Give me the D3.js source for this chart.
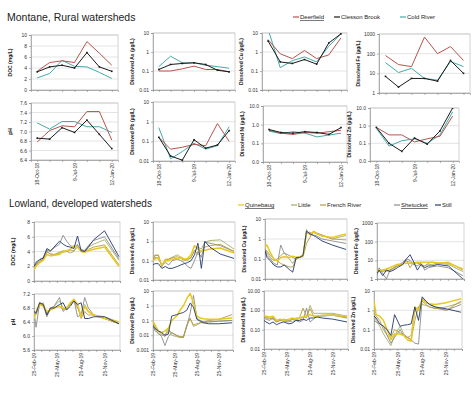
<!DOCTYPE html>
<html>
<head>
<meta charset="utf-8">
<script src="https://cdn.jsdelivr.net/npm/d3@7"></script>
<style>
body { margin: 0; background: #fff; }
svg { font-family: "Liberation Sans", Arial, sans-serif; }
</style>
</head>
<body>
<div id="chart"></div>
<script>
// Montane, rural sites (7 sampling events)
var upNames = ["Deerfield", "Clesson Brook", "Cold River"];
var upColors = ["#b5544f", "#1a1a1a", "#45aaa8"];
var upDates = ["18-Oct-18", "", "", "9-Jul-19", "", "", "12-Jan-20"];

var upDOC = [[3.4, 5.0, 5.3, 5.0, 8.8, 6.7, 4.5], [3.3, 4.2, 4.5, 4.0, 6.8, 4.2, 3.4], [2.2, 3.0, 5.4, 4.3, 4.2, 3.2, 2.1]];
var upAs = [[0.10, 0.10, 0.13, 0.18, 0.12, 0.12, 0.09], [0.12, 0.22, 0.25, 0.27, 0.22, 0.11, 0.09], [0.17, 0.6, 0.27, 0.27, 0.2, 0.17, 0.14]];
var upCu = [[4.5, 0.8, 0.45, 1.2, 0.45, 0.7, 5.5], [3.8, 0.3, 0.25, 0.4, 0.23, 3.0, 9.0], [16, 0.15, 0.35, 0.55, 0.3, 2.0, 9.0]];
var upFe = [[80, 28, 22, 700, 100, 230, 45], [7, 2, 5.5, 5.5, 4, 45, 10], [35, 11, 18, 5.5, 4.5, 40, 22]];
var upPH = [[6.78, 7.02, 7.12, 7.10, 7.42, 7.42, 6.82], [6.86, 6.84, 7.08, 6.98, 7.24, 6.94, 6.64], [7.18, 7.05, 7.21, 7.21, 7.10, 7.10, 6.98]];
var upPb = [[0.16, 0.04, 0.05, 0.07, 0.06, 0.8, 0.1], [0.16, 0.018, 0.011, 0.12, 0.045, 0.065, 0.35], [0.5, 0.013, 0.03, 0.08, 0.04, 0.06, 0.55]];
var upNi = [[0.5, 0.35, 0.3, 0.38, 0.35, 0.42, 0.5], [0.55, 0.38, 0.35, 0.42, 0.38, 0.3, 0.7], [0.45, 0.33, 0.42, 0.35, 0.22, 0.28, 0.35]];
var upZn = [[0.8, 0.3, 0.3, 0.12, 0.18, 0.25, 3.5], [0.8, 0.1, 0.035, 0.2, 0.09, 0.5, 10], [0.7, 0.07, 0.14, 0.18, 0.1, 0.3, 6]];

// Lowland, developed sites
var lowNames = ["Quinebaug", "Little", "French River", "Shetucket", "Still"];
var lowColors = ["#e9c81e", "#a4ad6c", "#b89b3c", "#8a8a8a", "#23396e"];
var lowDates = ["2019-02-25", "2019-03-05", "2019-03-19", "2019-04-02", "2019-04-16", "2019-04-30", "2019-05-14",
  "2019-06-04", "2019-06-18", "2019-07-02", "2019-07-16", "2019-07-30", "2019-08-13", "2019-08-27",
  "2019-09-10", "2019-09-24", "2019-10-15", "2019-11-26", "2020-01-21"];

var lowDOC = [
  [1.5, 2.0, 2.5, 2.8, 3.6, 3.4, 3.5, 3.6, 4.0, 4.1, 4.3, 4.8, 4.6, 4.0, 3.9, 4.1, 4.3, 4.6, 2.0],
  [1.9, 2.3, 2.7, 3.0, 4.1, 3.6, 3.5, 3.8, 3.9, 4.0, 3.8, 4.0, 5.0, 4.0, 4.2, 4.6, 5.0, 5.6, 2.8],
  [1.8, 2.2, 2.6, 2.9, 3.9, 3.7, 3.6, 3.9, 4.1, 4.0, 4.2, 4.1, 4.6, 4.2, 4.0, 4.3, 4.6, 4.9, 2.2],
  [2.1, 2.6, 2.9, 3.2, 4.2, 4.0, 4.5, 5.0, 6.2, 5.4, 4.8, 4.6, 4.8, 4.3, 4.1, 4.8, 5.5, 6.0, 3.0],
  [2.0, 2.4, 2.9, 3.1, 4.4, 4.1, 4.6, 5.4, 5.0, 4.7, 4.6, 4.4, 6.1, 4.1, 4.0, 4.6, 5.6, 6.8, 3.3]];
var lowAs = [
  [0.1, 0.12, 0.15, 0.06, 0.1, 0.1, 0.12, 0.13, 0.15, 0.12, 0.13, 0.2, 0.6, 0.4, 0.3, 0.35, 0.4, 0.45, 0.25],
  [0.15, 0.2, 0.18, 0.05, 0.1, 0.12, 0.15, 0.2, 0.15, 0.12, 0.1, 0.15, 0.3, 0.5, 0.4, 0.9, 1.1, 1.2, 0.4],
  [0.12, 0.18, 0.2, 0.05, 0.12, 0.12, 0.14, 0.16, 0.13, 0.1, 0.12, 0.14, 0.35, 0.2, 0.3, 0.5, 0.6, 0.7, 0.3],
  [0.1, 0.15, 0.12, 0.06, 0.08, 0.06, 0.1, 0.12, 0.1, 0.08, 0.05, 0.04, 0.1, 0.3, 0.15, 0.9, 0.8, 0.6, 0.3],
  [0.06, 0.07, 0.07, 0.04, 0.05, 0.04, 0.04, 0.05, 0.06, 0.07, 0.08, 0.1, 0.2, 0.8, 0.04, 1.0, 0.5, 0.22, 0.13]];
var lowCu = [
  [0.4, 0.5, 0.2, 0.1, 0.08, 0.12, 0.13, 0.12, 0.14, 0.12, 0.13, 0.15, 2.0, 1.8, 2.2, 1.8, 1.4, 1.2, 1.8],
  [0.35, 0.2, 0.12, 0.08, 0.1, 0.15, 0.2, 0.1, 0.06, 0.12, 0.12, 0.15, 3.0, 1.5, 2.2, 1.8, 1.5, 1.0, 1.5],
  [0.3, 0.25, 0.15, 0.1, 0.08, 0.06, 0.05, 0.04, 0.04, 0.1, 0.12, 0.13, 0.6, 1.2, 2.5, 2.0, 1.6, 1.0, 0.9],
  [0.3, 0.15, 0.1, 0.06, 0.05, 0.5, 0.2, 0.15, 0.12, 0.1, 0.12, 0.15, 2.0, 2.2, 1.6, 1.4, 1.0, 0.8, 0.6],
  [0.25, 0.12, 0.08, 0.05, 0.04, 0.04, 0.05, 0.03, 0.022, 0.12, 0.12, 0.15, 2.5, 1.8, 1.5, 1.2, 0.8, 0.5, 0.3]];
var lowFe = [
  [2.5, 3, 3, 3.5, 4, 5, 6, 6.5, 7, 7, 7.5, 8, 8, 8, 8, 8, 7.5, 7, 3.5],
  [3, 2.5, 3, 2.5, 3, 3.5, 5, 7, 9, 8, 6, 8, 5, 5, 6, 6, 7, 6, 2.5],
  [2, 3, 2.5, 3, 3, 4, 5, 6, 10, 4, 8, 7, 6, 5, 7, 8, 7, 8, 3],
  [1.5, 4, 2, 1, 3, 4, 5, 8, 12, 10, 6, 5, 7, 3, 4, 4.5, 5, 4, 1.5],
  [2, 3, 1.5, 3, 2.5, 3, 4, 6, 12, 20, 8, 3, 6, 4, 5, 5, 6, 5, 1]];
var lowPH = [
  [6.5, 6.7, 6.9, 6.85, 6.7, 6.75, 6.8, 6.85, 6.8, 6.8, 6.95, 7.05, 6.9, 6.55, 6.85, 6.7, 6.6, 6.5, 6.4],
  [6.6, 6.6, 6.9, 6.95, 6.6, 6.75, 6.85, 7.0, 6.8, 6.75, 6.95, 7.0, 6.8, 6.6, 6.9, 6.7, 6.6, 6.55, 6.4],
  [6.55, 6.7, 6.95, 6.85, 6.65, 6.8, 6.8, 6.85, 6.75, 6.8, 6.9, 7.0, 6.85, 6.5, 6.7, 6.6, 6.6, 6.5, 6.35],
  [6.7, 6.25, 6.95, 6.9, 6.55, 6.8, 6.85, 7.1, 6.7, 6.8, 6.9, 7.05, 6.55, 6.6, 7.1, 6.8, 6.6, 6.5, 6.35],
  [6.7, 6.65, 6.95, 6.9, 6.6, 6.8, 6.8, 6.9, 6.95, 6.75, 6.85, 7.0, 6.9, 6.95, 6.5, 6.5, 6.55, 6.55, 6.35]];
var lowPb = [
  [0.09, 0.05, 0.02, 0.015, 0.02, 0.03, 0.1, 0.2, 0.5, 1.0, 3.0, 7.0, 1.5, 0.2, 0.15, 0.13, 0.12, 0.12, 0.15],
  [0.06, 0.03, 0.012, 0.01, 0.01, 0.03, 0.01, 0.008, 0.007, 0.007, 0.04, 0.15, 0.04, 0.05, 0.07, 0.07, 0.08, 0.09, 0.1],
  [0.07, 0.04, 0.02, 0.012, 0.008, 0.02, 0.015, 0.009, 0.008, 0.007, 0.05, 0.13, 0.05, 0.06, 0.07, 0.08, 0.1, 0.12, 0.25],
  [0.05, 0.02, 0.015, 0.008, 0.002, 0.008, 0.015, 0.01, 0.008, 0.008, 0.04, 0.3, 5.0, 0.15, 0.1, 0.08, 0.08, 0.09, 0.1],
  [0.04, 0.03, 0.02, 0.015, 0.01, 0.012, 0.2, 0.25, 0.3, 0.35, 0.5, 1.5, 0.8, 0.12, 0.09, 0.07, 0.06, 0.06, 0.07]];
var lowNi = [
  [0.55, 0.5, 0.45, 0.5, 0.3, 0.35, 0.3, 0.35, 0.4, 0.35, 0.4, 0.45, 0.5, 0.6, 0.5, 0.5, 0.55, 0.55, 0.5],
  [0.5, 0.45, 0.35, 0.45, 0.3, 0.35, 0.3, 0.3, 0.25, 0.35, 0.3, 0.5, 0.4, 1.8, 0.7, 0.7, 0.7, 0.7, 0.5],
  [0.45, 0.4, 0.4, 0.35, 0.25, 0.3, 0.35, 0.3, 0.35, 0.4, 0.4, 1.3, 0.5, 1.2, 0.5, 0.5, 0.55, 0.6, 0.45],
  [0.4, 0.35, 0.3, 0.4, 0.25, 0.3, 0.28, 0.25, 0.35, 0.3, 0.25, 0.3, 1.3, 0.25, 0.35, 0.5, 0.5, 0.55, 0.4],
  [0.3, 0.25, 0.2, 0.25, 0.18, 0.22, 0.25, 0.2, 0.22, 0.3, 0.3, 0.35, 0.3, 0.4, 0.4, 0.45, 0.4, 0.35, 0.25]];
var lowZn = [
  [3.0, 0.6, 0.5, 0.3, 0.1, 0.03, 0.06, 0.06, 0.05, 0.03, 0.025, 1.5, 1.0, 4.0, 2.5, 2.2, 2.0, 2.5, 4.0],
  [0.6, 0.3, 0.15, 0.06, 0.03, 0.015, 0.05, 0.15, 0.06, 0.04, 0.05, 1.0, 1.5, 2.0, 1.8, 1.5, 1.2, 1.5, 2.5],
  [0.8, 0.5, 0.3, 0.1, 0.05, 0.04, 0.1, 0.07, 0.05, 0.04, 0.03, 0.3, 1.5, 3.0, 2.0, 1.5, 1.3, 1.0, 3.0],
  [0.3, 0.25, 0.2, 0.15, 0.05, 0.02, 0.04, 0.1, 0.05, 0.04, 0.03, 0.02, 0.018, 4.0, 2.5, 2.0, 1.5, 1.0, 2.0],
  [0.5, 0.4, 0.2, 0.15, 0.1, 0.05, 0.6, 0.15, 0.17, 0.18, 0.2, 1.5, 0.3, 5.0, 3.0, 2.0, 1.5, 1.2, 0.8]];

var width = 474, height = 394;
var svg = d3.select("#chart").append("svg")
  .attr("width", width)
  .attr("height", height);

var parseDate = d3.timeParse("%Y-%m-%d");
var lowX = lowDates.map(parseDate);
var lowStart = parseDate("2019-02-25"), lowEnd = parseDate("2020-01-25");
var monthTicks = d3.range(0, 12).map(function(i) { return new Date(2019, 1 + i, 25); })
  .filter(function(d) { return d <= lowEnd; });
var fmtDate = d3.timeFormat("%-d-%b-%y");
var clipId = 0;

function drawPanel(o) {
  var g = svg.append("g");
  var x, xVals;
  if (o.mode === "up") {
    x = d3.scalePoint().domain(d3.range(7)).range([o.l, o.r]).padding(0.5);
    xVals = d3.range(7);
  } else {
    x = d3.scaleTime().domain([lowStart, lowEnd]).range([o.l, o.r]);
    xVals = lowX;
  }
  var y = (o.log ? d3.scaleLog() : d3.scaleLinear()).domain(o.domain).range([o.b, o.t]);

  // gridlines
  g.selectAll(".grid").data(o.ticks).enter().append("line")
    .attr("x1", o.l).attr("x2", o.r)
    .attr("y1", function(d) { return y(d); })
    .attr("y2", function(d) { return y(d); })
    .attr("stroke", "#d9d9d9")
    .attr("stroke-width", 0.7);

  g.append("rect")
    .attr("x", o.l).attr("y", o.t)
    .attr("width", o.r - o.l).attr("height", o.b - o.t)
    .attr("fill", "none")
    .attr("stroke", "#bfbfbf")
    .attr("stroke-width", 0.7);

  var yAxis = g.append("g")
    .attr("transform", "translate(" + o.l + ",0)")
    .call(d3.axisLeft(y).tickValues(o.ticks).tickFormat(o.fmt).tickSize(2).tickPadding(2));
  yAxis.selectAll("text").style("font-size", "5px").attr("fill", "#333");
  yAxis.selectAll("line, path").attr("stroke", "#888").attr("stroke-width", 0.6);

  var xAxis;
  if (o.mode === "up") {
    xAxis = d3.axisBottom(x).tickValues(d3.range(7)).tickSize(2)
      .tickFormat(function(d) { return o.labels ? upDates[d] : ""; });
  } else {
    xAxis = d3.axisBottom(x).tickValues(monthTicks).tickSize(2)
      .tickFormat(function(d, i) { return (o.labels && i % 3 === 0) ? fmtDate(d) : ""; });
  }
  var xg = g.append("g")
    .attr("transform", "translate(0," + o.b + ")")
    .call(xAxis);
  xg.selectAll("line, path").attr("stroke", "#888").attr("stroke-width", 0.6);
  xg.selectAll("text")
    .style("font-size", "5px")
    .attr("fill", "#333")
    .attr("transform", "rotate(-90)")
    .attr("text-anchor", "end")
    .attr("x", -3).attr("y", 0).attr("dy", "0.35em");

  g.append("text")
    .attr("transform", "translate(" + (o.l - 19) + "," + ((o.t + o.b) / 2) + ") rotate(-90)")
    .attr("text-anchor", "middle")
    .style("font-size", "5px")
    .attr("font-weight", "bold")
    .attr("fill", "#222")
    .text(o.label);

  clipId++;
  svg.append("clipPath").attr("id", "clip" + clipId)
    .append("rect").attr("x", o.l).attr("y", o.t)
    .attr("width", o.r - o.l).attr("height", o.b - o.t);

  var line = d3.line()
    .x(function(d, i) { return x(xVals[i]); })
    .y(function(d) { return y(d); });

  var lines = g.append("g").attr("clip-path", "url(#clip" + clipId + ")");
  o.order.forEach(function(k) {
    lines.append("path")
      .datum(o.data[k])
      .attr("d", line)
      .attr("fill", "none")
      .attr("stroke", o.colors[k])
      .attr("stroke-width", o.widths[k])
      .attr("stroke-linejoin", "round");
  });
  if (o.mode === "up") {
    // Clesson Brook has small markers
    lines.selectAll(".mk").data(o.data[1]).enter().append("rect")
      .attr("x", function(d, i) { return x(i) - 0.8; })
      .attr("y", function(d) { return y(d) - 0.8; })
      .attr("width", 1.6).attr("height", 1.6)
      .attr("fill", o.colors[1]);
  }
}

var f0 = d3.format(".0f"), f1 = d3.format(".1f"), f2 = d3.format(".2f");
var fLog = function(d) { return String(d); };
var decades3 = [0.01, 0.1, 1, 10];
var upW = [1, 1, 1];
var upOrder = [2, 0, 1];
var lowW = [1.5, 0.9, 0.9, 0.9, 0.9];
var lowOrder = [1, 3, 2, 0, 4];

function up(o) { o.mode = "up"; o.colors = upColors; o.widths = upW; o.order = upOrder; drawPanel(o); }
function low(o) { o.mode = "low"; o.colors = lowColors; o.widths = lowW; o.order = lowOrder; drawPanel(o); }

up({ l: 31, r: 118, t: 35, b: 90, domain: [0, 10], ticks: [0, 2, 4, 6, 8, 10], fmt: f0, label: "DOC (mg/L)", data: upDOC });
up({ l: 153, r: 235, t: 33, b: 90, log: true, domain: [0.01, 10], ticks: decades3, fmt: fLog, label: "Dissolved As (µg/L)", data: upAs });
up({ l: 262, r: 347, t: 33, b: 90, log: true, domain: [0.01, 10], ticks: decades3, fmt: fLog, label: "Dissolved Cu (µg/L)", data: upCu });
up({ l: 379, r: 470, t: 34, b: 93, log: true, domain: [1, 1000], ticks: [1, 10, 100, 1000], fmt: fLog, label: "Dissolved Fe (µg/L)", data: upFe });
up({ l: 31, r: 118, t: 103, b: 160, domain: [6.4, 7.6], ticks: [6.4, 6.6, 6.8, 7.0, 7.2, 7.4, 7.6], fmt: f1, label: "pH", data: upPH, labels: true });
up({ l: 153, r: 235, t: 102, b: 161, log: true, domain: [0.01, 10], ticks: decades3, fmt: fLog, label: "Dissolved Pb (µg/L)", data: upPb, labels: true });
up({ l: 263, r: 347, t: 106, b: 162, log: true, domain: [0.01, 10], ticks: decades3, fmt: f1, label: "Dissolved Ni (µg/L)", data: upNi, labels: true });
up({ l: 370, r: 459, t: 108, b: 161, log: true, domain: [0.01, 10], ticks: decades3, fmt: f1, label: "Dissolved Zn (µg/L)", data: upZn, labels: true });

low({ l: 34, r: 120, t: 222, b: 281, domain: [0, 8], ticks: [0, 2, 4, 6, 8], fmt: f0, label: "DOC (mg/L)", data: lowDOC });
low({ l: 153, r: 235, t: 222, b: 280, log: true, domain: [0.01, 10], ticks: decades3, fmt: fLog, label: "Dissolved As (µg/L)", data: lowAs });
low({ l: 265, r: 347, t: 219, b: 279, log: true, domain: [0.01, 10], ticks: decades3, fmt: fLog, label: "Dissolved Cu (µg/L)", data: lowCu });
low({ l: 377, r: 464, t: 223, b: 279, log: true, domain: [1, 1000], ticks: [1, 10, 100, 1000], fmt: fLog, label: "Dissolved Fe (µg/L)", data: lowFe });
low({ l: 34, r: 120, t: 294, b: 350, domain: [5.6, 7.2], ticks: [5.6, 6.0, 6.4, 6.8, 7.2], fmt: f1, label: "pH", data: lowPH, labels: true });
low({ l: 153, r: 233, t: 291, b: 350, log: true, domain: [0.001, 10], ticks: [0.001, 0.01, 0.1, 1, 10], fmt: fLog, label: "Dissolved Pb (µg/L)", data: lowPb, labels: true });
low({ l: 264, r: 348, t: 291, b: 349, log: true, domain: [0.01, 10], ticks: decades3, fmt: f2, label: "Dissolved Ni (µg/L)", data: lowNi, labels: true });
low({ l: 374, r: 462, t: 291, b: 349, log: true, domain: [0.01, 10], ticks: decades3, fmt: fLog, label: "Dissolved Zn (µg/L)", data: lowZn, labels: true });

// section titles
svg.append("text").attr("x", 7).attr("y", 21)
  .style("font-size", "10.5px").attr("fill", "#222")
  .text("Montane, Rural watersheds");
svg.append("text").attr("x", 9).attr("y", 207)
  .style("font-size", "10px").attr("fill", "#222")
  .text("Lowland, developed watersheds");

// legends
function legend(names, colors, xs, yy, underline) {
  var lg = svg.append("g");
  names.forEach(function(n, i) {
    lg.append("line")
      .attr("x1", xs[i]).attr("x2", xs[i] + 6)
      .attr("y1", yy).attr("y2", yy)
      .attr("stroke", colors[i]).attr("stroke-width", 1.2);
    lg.append("text")
      .attr("x", xs[i] + 7).attr("y", yy + 2)
      .style("font-size", "6px")
      .style("text-decoration", underline.indexOf(i) >= 0 ? "underline" : "none")
      .attr("fill", "#222")
      .text(n);
  });
}
legend(upNames, upColors, [293, 334, 400], 17, [0]);
legend(lowNames, lowColors, [238, 291, 320, 394, 435], 205, [0, 3]);
</script>
</body>
</html>
